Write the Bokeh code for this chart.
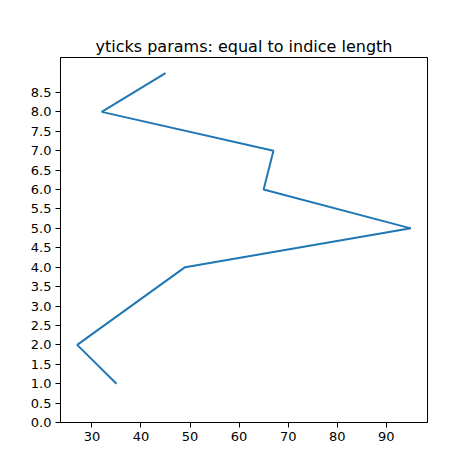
from bokeh.plotting import figure
from bokeh.models import Range1d, FixedTicker
from bokeh.embed import file_html
from bokeh.resources import INLINE

# Data
x_values = [35, 27, 49, 95, 65, 67, 32, 45]
y_values = [1, 2, 4, 5, 6, 7, 8, 9]
y_ticks = [0.0, 0.5, 1.0, 1.5, 2.0, 2.5, 3.0, 3.5, 4.0, 4.5, 5.0, 5.5, 6.0, 6.5, 7.0, 7.5, 8.0, 8.5]
y_tick_labels = ["0.0", "0.5", "1.0", "1.5", "2.0", "2.5", "3.0", "3.5", "4.0", "4.5",
                 "5.0", "5.5", "6.0", "6.5", "7.0", "7.5", "8.0", "8.5"]
x_ticks = [30, 40, 50, 60, 70, 80, 90]
x_tick_labels = ["30", "40", "50", "60", "70", "80", "90"]
title_text = "yticks params: equal to indice length"

FONT = "DejaVu Sans"

p = figure(width=458, height=458, output_backend="svg", toolbar_location=None,
           x_range=Range1d(23.6, 98.4), y_range=Range1d(0, 9.4),
           min_border_left=60, min_border_right=31, min_border_top=57, min_border_bottom=36,
           title=title_text)

p.line(x_values, y_values, line_color="#1f77b4", line_width=2)

p.title.align = "center"
p.title.text_font = FONT
p.title.text_font_size = "16px"
p.title.text_font_style = "normal"
p.title.text_color = "black"
p.title.standoff = 4

p.grid.visible = False
p.outline_line_color = "black"
p.outline_line_width = 1
p.background_fill_color = "white"
p.border_fill_color = "white"

p.xaxis.ticker = FixedTicker(ticks=x_ticks)
p.xaxis.major_label_overrides = {t: l for t, l in zip(x_ticks, x_tick_labels)}
p.yaxis.ticker = FixedTicker(ticks=y_ticks)
p.yaxis.major_label_overrides = {t: l for t, l in zip(y_ticks, y_tick_labels)}

for ax in (p.xaxis, p.yaxis):
    ax.axis_line_color = "black"
    ax.axis_line_width = 1
    ax.major_tick_line_color = "black"
    ax.major_tick_line_width = 1
    ax.major_tick_out = 5
    ax.major_tick_in = 0
    ax.minor_tick_line_color = None
    ax.major_label_text_font = FONT
    ax.major_label_text_font_size = "13px"
    ax.major_label_text_color = "black"
    ax.major_label_standoff = 4

open("out.html", "w").write(file_html(p, INLINE))
